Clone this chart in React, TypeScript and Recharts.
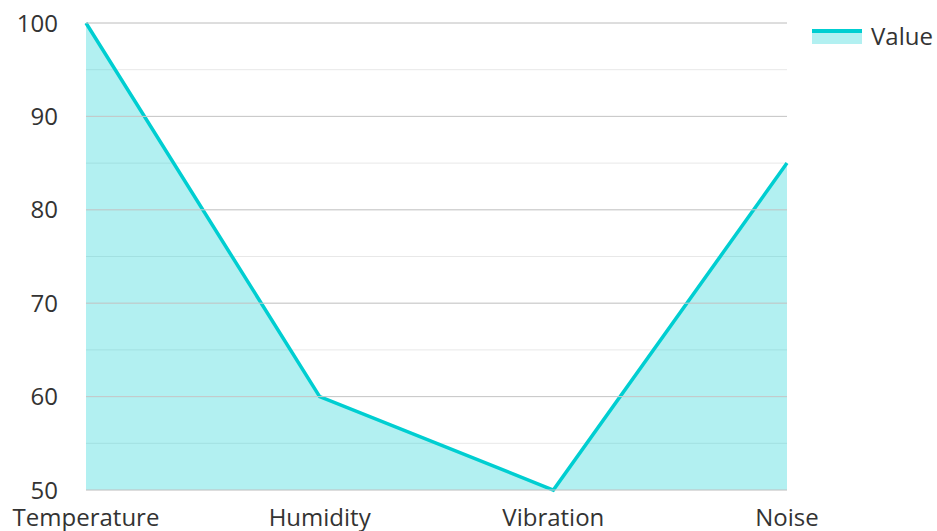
import React from 'react';
import { AreaChart, Area, XAxis, YAxis, CartesianGrid, ReferenceLine } from 'recharts';

const categories = ['Temperature', 'Humidity', 'Vibration', 'Noise'];
const values = [100, 60, 50, 85];
const yTicks = [50, 55, 60, 65, 70, 75, 80, 85, 90, 95, 100];
const majorTicks = [50, 60, 70, 80, 90, 100];
const seriesName = 'Value';

const data = categories.map((name, i) => ({ name, value: values[i] }));

const COLOR = '#00CED1';
const FONT = "'Open Sans', sans-serif";

const LegendContent = () => (
  <div style={{ display: 'flex', alignItems: 'center', fontFamily: FONT, fontSize: 24, color: '#333', lineHeight: '30px' }}>
    <svg width={50} height={16} style={{ marginRight: 9 }}>
      <rect x={0} y={4} width={50} height={12} fill={COLOR} fillOpacity={0.3} />
      <line x1={0} y1={3} x2={50} y2={3} stroke={COLOR} strokeWidth={4} />
    </svg>
    <span>{seriesName}</span>
  </div>
);

export default function App() {
  return (
    <div style={{ position: 'absolute', left: 0, top: 0, width: 937, height: 531 }}>
      <AreaChart width={937} height={531} data={data} margin={{ top: 23, right: 150, left: 0, bottom: 0 }}>
        <CartesianGrid vertical={false} stroke="#e8e8e8" strokeWidth={1} />
        {majorTicks.map((t) => (
          <ReferenceLine key={t} y={t} stroke="#c8c8c8" strokeWidth={1} />
        ))}
        <XAxis
          dataKey="name"
          interval={0}
          axisLine={false}
          tickLine={false}
          tickSize={0}
          tickMargin={19}
          height={41}
          tick={{ fontFamily: FONT, fontSize: 24, fill: '#333' }}
        />
        <YAxis
          domain={[50, 100]}
          ticks={yTicks}
          interval={0}
          tickFormatter={(v: number) => (v % 10 === 0 ? String(v) : '')}
          axisLine={false}
          tickLine={false}
          tickSize={0}
          tickMargin={28}
          width={86}
          tick={{ fontFamily: FONT, fontSize: 24, fill: '#333' }}
        />
        <Area
          type="linear"
          dataKey="value"
          name={seriesName}
          stroke={COLOR}
          strokeWidth={3.5}
          fill={COLOR}
          fillOpacity={0.3}
          dot={false}
          activeDot={false}
          isAnimationActive={false}
        />
      </AreaChart>
      <div style={{ position: 'absolute', left: 812, top: 21 }}>
        <LegendContent />
      </div>
    </div>
  );
}
